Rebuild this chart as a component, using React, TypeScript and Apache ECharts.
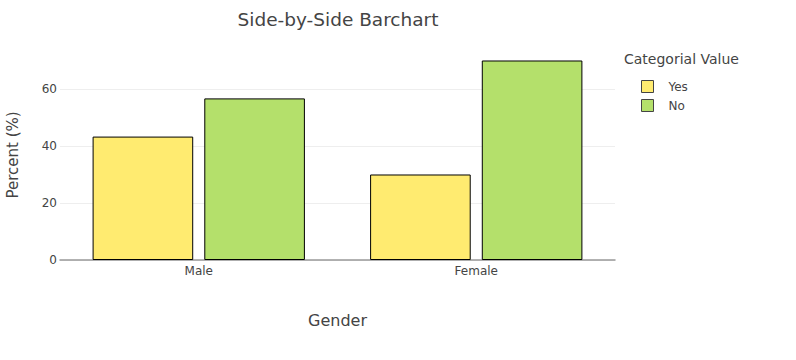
import React, { useEffect, useRef } from "react";
import * as echarts from "echarts";

const categories = ["Male", "Female"];
const yesValues = [43.3, 30.0];
const noValues = [56.7, 70.0];
const seriesNames = ["Yes", "No"];
const yTicks = [0, 20, 40, 60];

const FONT = "'DejaVu Sans', Verdana, sans-serif";

export default function App() {
  const ref = useRef<HTMLDivElement>(null);
  useEffect(() => {
    if (!ref.current) return;
    const chart = echarts.init(ref.current, undefined, { renderer: "svg" });
    chart.setOption({
      animation: false,
      backgroundColor: "#fff",
      textStyle: { fontFamily: FONT },
      title: {
        text: "Side-by-Side Barchart",
        left: 333,
        textAlign: "center",
        top: 5,
        textStyle: { fontFamily: FONT, fontSize: 18.5, fontWeight: "normal", color: "#444" },
      },
      graphic: [
        {
          type: "text",
          left: 624,
          top: 52,
          style: { text: "Categorial Value", fontFamily: FONT, fontSize: 14, fill: "#444" },
        },
      ],
      legend: {
        orient: "vertical",
        left: 636,
        top: 75,
        padding: 5,
        itemWidth: 12,
        itemHeight: 12,
        itemGap: 6,
        icon: "rect",
        data: seriesNames,
        itemStyle: { borderColor: "#444", borderWidth: 1 },
        textStyle: { fontFamily: FONT, fontSize: 12, color: "#444", padding: [0, 0, 0, 10] },
      },
      grid: {
        left: 60,
        right: 181,
        top: 50,
        bottom: 100,
        containLabel: false,
        outerBoundsMode: "none",
      },
      xAxis: {
        type: "category",
        data: categories,
        name: "Gender",
        nameLocation: "middle",
        nameGap: 52,
        nameTextStyle: { fontFamily: FONT, fontSize: 16, color: "#444" },
        axisLine: { show: true, lineStyle: { color: "#999", width: 1.5 } },
        axisTick: { show: false },
        axisLabel: { fontFamily: FONT, fontSize: 12, color: "#444", margin: 5 },
      },
      yAxis: {
        type: "value",
        min: 0,
        max: 73.68,
        interval: 20,
        name: "Percent (%)",
        nameLocation: "middle",
        nameGap: 40,
        nameTextStyle: { fontFamily: FONT, fontSize: 15, color: "#444" },
        axisLine: { show: false },
        axisTick: { show: false },
        axisLabel: {
          fontFamily: FONT,
          fontSize: 12,
          color: "#444",
          margin: 3,
          showMaxLabel: false,
          formatter: (v: number) => (yTicks.includes(v) ? String(v) : ""),
        },
        splitLine: { show: true, showMaxLine: false, lineStyle: { color: "#eeeeee", width: 1 } },
      },
      series: [
        {
          name: seriesNames[0],
          type: "bar",
          data: yesValues,
          barGap: "11%",
          barCategoryGap: "23.5%",
          itemStyle: { color: "#ffeb70", borderColor: "#000", borderWidth: 1 },
        },
        {
          name: seriesNames[1],
          type: "bar",
          data: noValues,
          barGap: "11%",
          barCategoryGap: "23.5%",
          itemStyle: { color: "#b4e06b", borderColor: "#000", borderWidth: 1 },
        },
      ],
    });
    return () => chart.dispose();
  }, []);
  return (
    <div
      ref={ref}
      style={{ position: "fixed", left: 0, top: 0, width: 796, height: 360 }}
    />
  );
}
